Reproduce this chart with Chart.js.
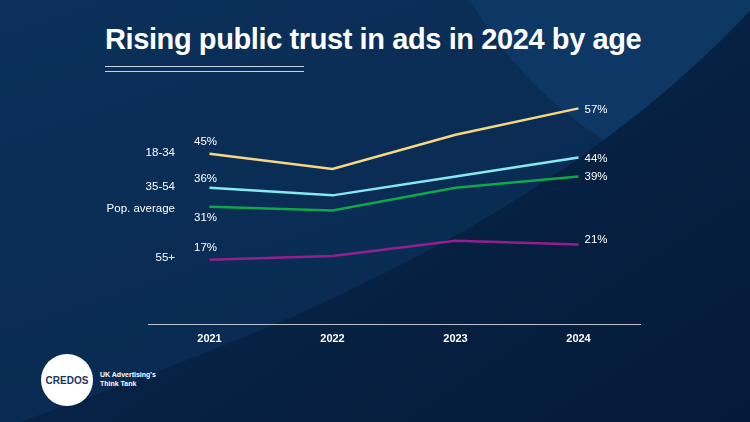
<!DOCTYPE html>
<html>
<head>
<meta charset="utf-8">
<script src="https://cdn.jsdelivr.net/npm/chart.js@4/dist/chart.umd.min.js"></script>
<style>
  html,body{margin:0;padding:0;}
  body{width:750px;height:422px;overflow:hidden;position:relative;font-family:"Liberation Sans",Arial,sans-serif;background:#0a2b55;}
  #bg{position:absolute;left:0;top:0;}
  #wrap{position:absolute;left:0;top:0;width:750px;height:422px;}
  #title{position:absolute;left:105px;top:23px;white-space:nowrap;color:#fff;font-weight:bold;font-size:29px;letter-spacing:-0.4px;}
  .rule{position:absolute;left:105px;width:199px;height:1px;background:#c9d3e0;}
  #logo{position:absolute;left:41px;top:354px;width:52px;height:52px;border-radius:50%;background:#fff;color:#1b3563;font-weight:bold;font-size:10px;display:flex;align-items:center;justify-content:center;}
  #tag{position:absolute;left:100px;top:370px;color:#fff;font-weight:bold;font-size:7px;line-height:9px;}
</style>
</head>
<body>
<svg id="bg" width="750" height="422" viewBox="0 0 750 422">
  <defs>
    <linearGradient id="g0" x1="0" y1="0" x2="0.6" y2="1">
      <stop offset="0" stop-color="#0b3059"/>
      <stop offset="1" stop-color="#092a51"/>
    </linearGradient>
    <linearGradient id="g1" x1="0.2" y1="0.3" x2="1" y2="1">
      <stop offset="0" stop-color="#08264b"/>
      <stop offset="1" stop-color="#051a38"/>
    </linearGradient>
  </defs>
  <rect width="750" height="422" fill="url(#g0)"/>
  <circle cx="820" cy="-200" r="403" fill="#0d3765"/>
  <path d="M 20 422 C 250 340, 550 230, 760 0 L 760 422 Z" fill="url(#g1)"/>
</svg>
<div id="title">Rising public trust in ads in 2024 by age</div>
<div class="rule" style="top:66px"></div>
<div class="rule" style="top:71px"></div>
<div id="logo">CREDOS</div>
<div id="tag">UK Advertising's<br>Think Tank</div>
<div id="wrap"><canvas id="c" width="750" height="422"></canvas></div>
<script>
const years = ["2021", "2022", "2023", "2024"];
const seriesNames = ["18-34", "35-54", "Pop. average", "55+"];
const age1834 = [45, 41, 50, 57];
const age3554 = [36, 34, 39, 44];
const popAverage = [31, 30, 36, 39];
const age55plus = [17, 18, 22, 21];

const colors = ["#f6d783", "#86e9f2", "#0fa64c", "#931f8e"];
const allData = [age1834, age3554, popAverage, age55plus];
const leftValDy = [-12, -9, 11, -12];
const nameDy = [-1, -1, 2, -2];
const rightValDy = [1, 1, 0, -5];

const labelPlugin = {
  id: 'labels',
  afterDatasetsDraw(chart) {
    const ctx = chart.ctx;
    const xs = chart.scales.x, ys = chart.scales.y;
    ctx.save();
    ctx.fillStyle = '#ffffff';
    ctx.font = '11.5px "Liberation Sans", Arial, sans-serif';
    ctx.textBaseline = 'middle';
    allData.forEach((d, i) => {
      const x0 = xs.getPixelForValue(0);
      const y0 = ys.getPixelForValue(d[0]);
      const x3 = xs.getPixelForValue(3);
      const y3 = ys.getPixelForValue(d[3]);
      ctx.textAlign = 'right';
      ctx.fillText(seriesNames[i], 175, y0 + nameDy[i]);
      ctx.textAlign = 'center';
      ctx.fillText(d[0] + '%', x0 - 4, y0 + leftValDy[i]);
      ctx.textAlign = 'left';
      ctx.fillText(d[3] + '%', x3 + 6, y3 + rightValDy[i]);
    });
    ctx.restore();
  }
};

new Chart(document.getElementById('c'), {
  type: 'line',
  data: {
    labels: years,
    datasets: allData.map((d, i) => ({
      label: seriesNames[i],
      data: d,
      borderColor: colors[i],
      borderWidth: 2.5,
      pointRadius: 0,
      tension: 0,
      fill: false
    }))
  },
  options: {
    responsive: false,
    animation: false,
    layout: { padding: { left: 148, right: 110, top: 97, bottom: 68 } },
    plugins: { legend: { display: false }, tooltip: { enabled: false }, title: { display: false } },
    scales: {
      x: {
        offset: true,
        grid: { display: false, drawTicks: false },
        border: { display: true, color: '#b8c2cf', width: 1 },
        ticks: { color: '#ffffff', font: { family: '"Liberation Sans", Arial, sans-serif', size: 11, weight: 'bold' }, padding: 8 },
        afterFit(scale) { scale.height = 30; }
      },
      y: { display: false, min: 0, max: 60 }
    }
  },
  plugins: [labelPlugin]
});
</script>
</body>
</html>
